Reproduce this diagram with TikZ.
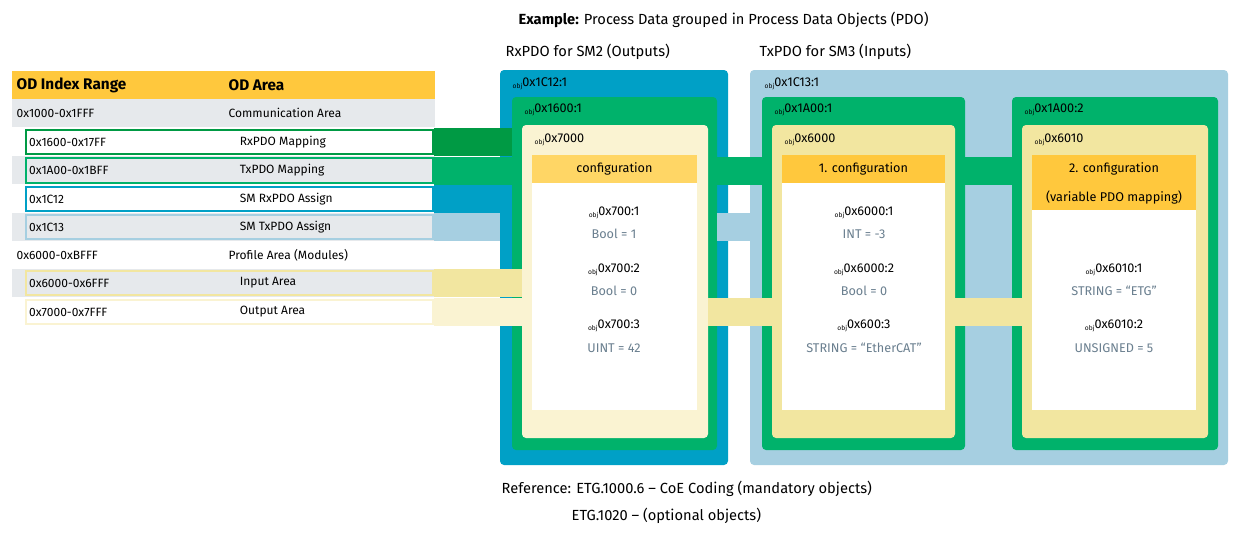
\documentclass[tikz,border=0pt]{standalone}
\usepackage{fontspec}
\setmainfont{Fira Sans}
\usetikzlibrary{fit}
\definecolor{hdr}{HTML}{FFC83D}
\definecolor{cfgl}{HTML}{FFD665}
\definecolor{grayrow}{HTML}{E6E9EC}
\definecolor{dgreen}{HTML}{009A44}
\definecolor{green}{HTML}{00B26B}
\definecolor{blue}{HTML}{00A0C6}
\definecolor{lblue}{HTML}{A6CFE1}
\definecolor{yel}{HTML}{F2E6A0}
\definecolor{cream}{HTML}{FAF3D2}
\definecolor{val}{HTML}{6A7F8F}
\newcommand{\objl}[1]{\raisebox{-0.35ex}{\fontsize{5}{5}\selectfont obj}{#1}}
\begin{document}
\begin{tikzpicture}[x=0.75pt,y=-0.75pt,
  box/.style={inner sep=0pt, rounded corners=3pt},
  rowb/.style={inner sep=0pt, line width=2.2pt},
  bar/.style={line width=21pt},
  rt/.style={anchor=west, font=\fontsize{9}{10}\selectfont},
  it/.style={font=\fontsize{9.5}{10}\selectfont},
  vt/.style={font=\fontsize{9.5}{10}\selectfont, text=val}]
\useasboundingbox (0,0) rectangle (1235,540);
% title
\node[anchor=west, font=\fontsize{11}{12}\selectfont] (title) at (514,20) {\textbf{Example:} Process Data grouped in Process Data Objects (PDO)};
\node[anchor=west, font=\fontsize{11}{12}\selectfont] (rxt) at (501,52) {RxPDO for SM2 (Outputs)};
\node[anchor=west, font=\fontsize{11}{12}\selectfont] (txt) at (755,52) {TxPDO for SM3 (Inputs)};
% left table
\fill[hdr] (12,71) rectangle (435,99);
\node[anchor=west, font=\bfseries\fontsize{11.5}{12}\selectfont] (h1) at (12,85) {OD Index Range};
\node[anchor=west, font=\bfseries\fontsize{11.5}{12}\selectfont] (h2) at (224,85) {OD Area};
\fill[grayrow] (12,99) rectangle (435,127);
\fill[grayrow] (12,156) rectangle (435,184);
\fill[grayrow] (12,213) rectangle (435,241);
\fill[grayrow] (12,269) rectangle (435,297);
\node[rt] (c1) at (12,113) {0x1000-0x1FFF};
\node[rt] (c2) at (224,113) {Communication Area};
\node[rt] (p1) at (12,255) {0x6000-0xBFFF};
\node[rt] (p2) at (224,255) {Profile Area (Modules)};
\node[rowb, draw=dgreen, fill=white, fit={(26,130)(433,154)}] (r1) {};
\node[rowb, draw=green, fill=grayrow, fit={(26,158)(433,183)}] (r2) {};
\node[rowb, draw=blue, fill=white, fit={(26,187)(433,211)}] (r3) {};
\node[rowb, draw=lblue, fill=grayrow, fit={(26,215)(433,239)}] (r4) {};
\node[rowb, draw=yel, fill=grayrow, fit={(26,271)(433,295)}] (r5) {};
\node[rowb, draw=cream, fill=white, fit={(26,300)(433,324)}] (r6) {};
\foreach \n/\a/\b in {r1/0x1600-0x17FF/RxPDO Mapping, r2/0x1A00-0x1BFF/TxPDO Mapping, r3/0x1C12/SM RxPDO Assign, r4/0x1C13/SM TxPDO Assign, r5/0x6000-0x6FFF/Input Area, r6/0x7000-0x7FFF/Output Area}{
  \node[rt] at ([xshift=0pt]\n.west) {\a};
  \node[rt] at ([xshift=158pt]\n.west) {\b};
}
% outer boxes
\node[box, fill=blue, fit={(500,70)(728,465)}] (b1c12) {};
\node[box, fill=lblue, fit={(750,70)(1228,465)}] (b1c13) {};
\node[anchor=west, it] at (508,84) {\objl{0x1C12:1}};
\node[anchor=west, it] at (760,84) {\objl{0x1C13:1}};
% middle boxes
\node[box, fill=green, fit={(512,97)(717,450)}] (b1600) {};
\node[box, fill=green, fit={(762,97)(965,450)}] (b1a01) {};
\node[box, fill=green, fit={(1012,97)(1218,450)}] (b1a02) {};
\node[anchor=west, it] at (520,110) {\objl{0x1600:1}};
\node[anchor=west, it] at (770,110) {\objl{0x1A00:1}};
\node[anchor=west, it] at (1020,110) {\objl{0x1A00:2}};
% connector bars
\draw[bar, dgreen] (r1.east) -- (r1.east -| b1600.west);
\draw[bar, green] (r2.east) -- (r2.east -| b1600.west);
\draw[bar, blue] (r3.east) -- (r3.east -| b1c12.west);
\draw[bar, lblue] (r4.east) -- (r4.east -| b1c12.west);
\draw[bar, green] (b1600.east |- 0,171) -- (b1a01.west |- 0,171);
\draw[bar, green] (b1a01.east |- 0,171) -- (b1a02.west |- 0,171);
\draw[bar, lblue] (b1600.east |- 0,227) -- (b1c13.west |- 0,227);
% inner boxes
\node[box, fill=cream, fit={(522,125)(708,438)}] (b7000) {};
\node[box, fill=yel, fit={(772,125)(955,438)}] (b6000) {};
\node[box, fill=yel, fit={(1022,125)(1208,438)}] (b6010) {};
\draw[bar, yel] (r5.east) -- (r5.east -| b7000.west);
\draw[bar, cream] (r6.east) -- (r6.east -| b7000.west);
\draw[bar, yel] (b7000.east |- 0,312) -- (b6000.west |- 0,312);
\draw[bar, yel] (b6000.east |- 0,312) -- (b6010.west |- 0,312);
\node[anchor=west, it] at (530,140) {\objl{0x7000}};
\node[anchor=west, it] at (780,140) {\objl{0x6000}};
\node[anchor=west, it] at (1030,140) {\objl{0x6010}};
% config headers and white areas
\fill[white] (532,183) rectangle (697,410);
\fill[white] (782,183) rectangle (945,410);
\fill[white] (1032,210) rectangle (1196,410);
\node[fill=cfgl, inner sep=0pt, fit={(532,155)(697,183)}] (cf1) {};
\node[fill=hdr, inner sep=0pt, fit={(782,155)(945,183)}] (cf2) {};
\node[fill=hdr, inner sep=0pt, fit={(1032,155)(1196,210)}] (cf3) {};
\node[it] at (cf1.center) {configuration};
\node[it] at (cf2.center) {1. configuration};
\node[it] at (1114,169) {2. configuration};
\node[it] at (1114,197) {(variable PDO mapping)};
% entries
\node[it] at (614,213) {\objl{0x700:1}};
\node[vt] at (614,234) {Bool = 1};
\node[it] at (614,270) {\objl{0x700:2}};
\node[vt] at (614,291) {Bool = 0};
\node[it] at (614,326) {\objl{0x700:3}};
\node[vt] at (614,348) {UINT = 42};
\node[it] at (864,213) {\objl{0x6000:1}};
\node[vt] at (864,234) {INT = -3};
\node[it] at (864,270) {\objl{0x6000:2}};
\node[vt] at (864,291) {Bool = 0};
\node[it] at (864,326) {\objl{0x600:3}};
\node[vt] at (864,348) {STRING = “EtherCAT”};
\node[it] at (1114,270) {\objl{0x6010:1}};
\node[vt] at (1114,291) {STRING = “ETG”};
\node[it] at (1114,326) {\objl{0x6010:2}};
\node[vt] at (1114,348) {UNSIGNED = 5};
% reference
\node[anchor=west, font=\fontsize{11}{12}\selectfont] (ref1) at (497,489) {Reference: ETG.1000.6 – CoE Coding (mandatory objects)};
\node[anchor=west, font=\fontsize{11}{12}\selectfont] (ref2) at (567,516) {ETG.1020 – (optional objects)};
\end{tikzpicture}
\end{document}
